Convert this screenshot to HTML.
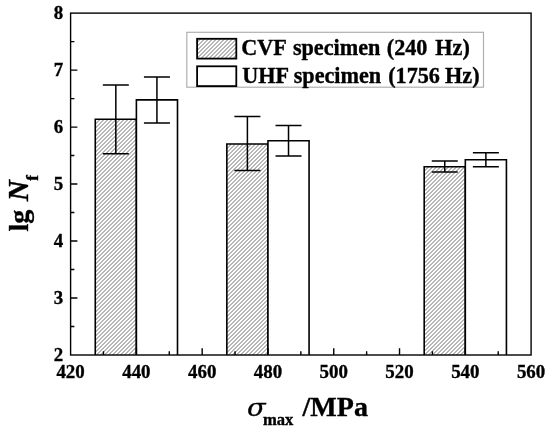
<!DOCTYPE html>
<html><head><meta charset="utf-8"><title>lg Nf vs sigma max</title>
<style>html,body{margin:0;padding:0;background:#fff;}svg{display:block;}</style>
</head><body>
<svg width="550" height="434" viewBox="0 0 550 434">
<rect x="95.27" y="119.20" width="41.12" height="235.80" fill="#fff"/>
<path d="M95.27,120.23L96.30,119.20M95.27,124.23L100.30,119.20M95.27,128.23L104.30,119.20M95.27,132.23L108.30,119.20M95.27,136.23L112.30,119.20M95.27,140.23L116.30,119.20M95.27,144.23L120.30,119.20M95.27,148.23L124.30,119.20M95.27,152.23L128.30,119.20M95.27,156.23L132.30,119.20M95.27,160.23L136.30,119.20M95.27,164.23L136.39,123.11M95.27,168.23L136.39,127.11M95.27,172.23L136.39,131.11M95.27,176.23L136.39,135.11M95.27,180.23L136.39,139.11M95.27,184.23L136.39,143.11M95.27,188.23L136.39,147.11M95.27,192.23L136.39,151.11M95.27,196.23L136.39,155.11M95.27,200.23L136.39,159.11M95.27,204.23L136.39,163.11M95.27,208.23L136.39,167.11M95.27,212.23L136.39,171.11M95.27,216.23L136.39,175.11M95.27,220.23L136.39,179.11M95.27,224.23L136.39,183.11M95.27,228.23L136.39,187.11M95.27,232.23L136.39,191.11M95.27,236.23L136.39,195.11M95.27,240.23L136.39,199.11M95.27,244.23L136.39,203.11M95.27,248.23L136.39,207.11M95.27,252.23L136.39,211.11M95.27,256.23L136.39,215.11M95.27,260.23L136.39,219.11M95.27,264.23L136.39,223.11M95.27,268.23L136.39,227.11M95.27,272.23L136.39,231.11M95.27,276.23L136.39,235.11M95.27,280.23L136.39,239.11M95.27,284.23L136.39,243.11M95.27,288.23L136.39,247.11M95.27,292.23L136.39,251.11M95.27,296.23L136.39,255.11M95.27,300.23L136.39,259.11M95.27,304.23L136.39,263.11M95.27,308.23L136.39,267.11M95.27,312.23L136.39,271.11M95.27,316.23L136.39,275.11M95.27,320.23L136.39,279.11M95.27,324.23L136.39,283.11M95.27,328.23L136.39,287.11M95.27,332.23L136.39,291.11M95.27,336.23L136.39,295.11M95.27,340.23L136.39,299.11M95.27,344.23L136.39,303.11M95.27,348.23L136.39,307.11M95.27,352.23L136.39,311.11M96.50,355.00L136.39,315.11M100.50,355.00L136.39,319.11M104.50,355.00L136.39,323.11M108.50,355.00L136.39,327.11M112.50,355.00L136.39,331.11M116.50,355.00L136.39,335.11M120.50,355.00L136.39,339.11M124.50,355.00L136.39,343.11M128.50,355.00L136.39,347.11M132.50,355.00L136.39,351.11" stroke="#666666" stroke-width="0.95" fill="none"/>
<path d="M95.27,355.00V119.20H136.39V355.00" fill="none" stroke="#000" stroke-width="1.6"/>
<rect x="136.39" y="99.90" width="41.12" height="255.10" fill="#fff"/>
<path d="M136.39,355.00V99.90H177.50V355.00" fill="none" stroke="#000" stroke-width="1.6"/>
<rect x="226.84" y="144.00" width="41.12" height="211.00" fill="#fff"/>
<path d="M226.84,144.66L227.50,144.00M226.84,148.66L231.50,144.00M226.84,152.66L235.50,144.00M226.84,156.66L239.50,144.00M226.84,160.66L243.50,144.00M226.84,164.66L247.50,144.00M226.84,168.66L251.50,144.00M226.84,172.66L255.50,144.00M226.84,176.66L259.50,144.00M226.84,180.66L263.50,144.00M226.84,184.66L267.50,144.00M226.84,188.66L267.96,147.54M226.84,192.66L267.96,151.54M226.84,196.66L267.96,155.54M226.84,200.66L267.96,159.54M226.84,204.66L267.96,163.54M226.84,208.66L267.96,167.54M226.84,212.66L267.96,171.54M226.84,216.66L267.96,175.54M226.84,220.66L267.96,179.54M226.84,224.66L267.96,183.54M226.84,228.66L267.96,187.54M226.84,232.66L267.96,191.54M226.84,236.66L267.96,195.54M226.84,240.66L267.96,199.54M226.84,244.66L267.96,203.54M226.84,248.66L267.96,207.54M226.84,252.66L267.96,211.54M226.84,256.66L267.96,215.54M226.84,260.66L267.96,219.54M226.84,264.66L267.96,223.54M226.84,268.66L267.96,227.54M226.84,272.66L267.96,231.54M226.84,276.66L267.96,235.54M226.84,280.66L267.96,239.54M226.84,284.66L267.96,243.54M226.84,288.66L267.96,247.54M226.84,292.66L267.96,251.54M226.84,296.66L267.96,255.54M226.84,300.66L267.96,259.54M226.84,304.66L267.96,263.54M226.84,308.66L267.96,267.54M226.84,312.66L267.96,271.54M226.84,316.66L267.96,275.54M226.84,320.66L267.96,279.54M226.84,324.66L267.96,283.54M226.84,328.66L267.96,287.54M226.84,332.66L267.96,291.54M226.84,336.66L267.96,295.54M226.84,340.66L267.96,299.54M226.84,344.66L267.96,303.54M226.84,348.66L267.96,307.54M226.84,352.66L267.96,311.54M228.50,355.00L267.96,315.54M232.50,355.00L267.96,319.54M236.50,355.00L267.96,323.54M240.50,355.00L267.96,327.54M244.50,355.00L267.96,331.54M248.50,355.00L267.96,335.54M252.50,355.00L267.96,339.54M256.50,355.00L267.96,343.54M260.50,355.00L267.96,347.54M264.50,355.00L267.96,351.54" stroke="#666666" stroke-width="0.95" fill="none"/>
<path d="M226.84,355.00V144.00H267.96V355.00" fill="none" stroke="#000" stroke-width="1.6"/>
<rect x="267.96" y="140.70" width="41.12" height="214.30" fill="#fff"/>
<path d="M267.96,355.00V140.70H309.07V355.00" fill="none" stroke="#000" stroke-width="1.6"/>
<rect x="424.20" y="166.80" width="41.12" height="188.20" fill="#fff"/>
<path d="M424.20,167.30L424.70,166.80M424.20,171.30L428.70,166.80M424.20,175.30L432.70,166.80M424.20,179.30L436.70,166.80M424.20,183.30L440.70,166.80M424.20,187.30L444.70,166.80M424.20,191.30L448.70,166.80M424.20,195.30L452.70,166.80M424.20,199.30L456.70,166.80M424.20,203.30L460.70,166.80M424.20,207.30L464.70,166.80M424.20,211.30L465.32,170.18M424.20,215.30L465.32,174.18M424.20,219.30L465.32,178.18M424.20,223.30L465.32,182.18M424.20,227.30L465.32,186.18M424.20,231.30L465.32,190.18M424.20,235.30L465.32,194.18M424.20,239.30L465.32,198.18M424.20,243.30L465.32,202.18M424.20,247.30L465.32,206.18M424.20,251.30L465.32,210.18M424.20,255.30L465.32,214.18M424.20,259.30L465.32,218.18M424.20,263.30L465.32,222.18M424.20,267.30L465.32,226.18M424.20,271.30L465.32,230.18M424.20,275.30L465.32,234.18M424.20,279.30L465.32,238.18M424.20,283.30L465.32,242.18M424.20,287.30L465.32,246.18M424.20,291.30L465.32,250.18M424.20,295.30L465.32,254.18M424.20,299.30L465.32,258.18M424.20,303.30L465.32,262.18M424.20,307.30L465.32,266.18M424.20,311.30L465.32,270.18M424.20,315.30L465.32,274.18M424.20,319.30L465.32,278.18M424.20,323.30L465.32,282.18M424.20,327.30L465.32,286.18M424.20,331.30L465.32,290.18M424.20,335.30L465.32,294.18M424.20,339.30L465.32,298.18M424.20,343.30L465.32,302.18M424.20,347.30L465.32,306.18M424.20,351.30L465.32,310.18M424.50,355.00L465.32,314.18M428.50,355.00L465.32,318.18M432.50,355.00L465.32,322.18M436.50,355.00L465.32,326.18M440.50,355.00L465.32,330.18M444.50,355.00L465.32,334.18M448.50,355.00L465.32,338.18M452.50,355.00L465.32,342.18M456.50,355.00L465.32,346.18M460.50,355.00L465.32,350.18M464.50,355.00L465.32,354.18" stroke="#666666" stroke-width="0.95" fill="none"/>
<path d="M424.20,355.00V166.80H465.32V355.00" fill="none" stroke="#000" stroke-width="1.6"/>
<rect x="465.32" y="159.70" width="41.12" height="195.30" fill="#fff"/>
<path d="M465.32,355.00V159.70H506.43V355.00" fill="none" stroke="#000" stroke-width="1.6"/>
<path d="M115.83,85.10V153.70M102.83,85.10h26.0M102.83,153.70h26.0" stroke="#000" stroke-width="1.5" fill="none"/>
<path d="M156.94,76.90V122.90M143.94,76.90h26.0M143.94,122.90h26.0" stroke="#000" stroke-width="1.5" fill="none"/>
<path d="M247.40,116.40V170.60M234.40,116.40h26.0M234.40,170.60h26.0" stroke="#000" stroke-width="1.5" fill="none"/>
<path d="M288.52,125.40V156.10M275.52,125.40h26.0M275.52,156.10h26.0" stroke="#000" stroke-width="1.5" fill="none"/>
<path d="M444.76,160.90V172.00M431.76,160.90h26.0M431.76,172.00h26.0" stroke="#000" stroke-width="1.5" fill="none"/>
<path d="M485.87,152.80V166.80M472.87,152.80h26.0M472.87,166.80h26.0" stroke="#000" stroke-width="1.5" fill="none"/>
<path d="M136.39,355.00v-6.8M202.17,355.00v-6.8M267.96,355.00v-6.8M333.74,355.00v-6.8M399.53,355.00v-6.8M465.32,355.00v-6.8M103.49,355.00v-3.8M169.28,355.00v-3.8M235.06,355.00v-3.8M300.85,355.00v-3.8M366.64,355.00v-3.8M432.42,355.00v-3.8M498.21,355.00v-3.8M70.60,298.02h6.8M70.60,241.04h6.8M70.60,184.06h6.8M70.60,127.08h6.8M70.60,70.10h6.8M70.60,326.51h3.8M70.60,269.53h3.8M70.60,212.55h3.8M70.60,155.57h3.8M70.60,98.59h3.8M70.60,41.61h3.8" stroke="#000" stroke-width="1.4" fill="none"/>
<rect x="70.60" y="13.12" width="460.50" height="341.88" fill="none" stroke="#000" stroke-width="1.4"/>
<g font-family="Liberation Serif" font-weight="bold" font-size="18.9" fill="#000" stroke="#000" stroke-width="0.35"><text x="70.60" y="378" text-anchor="middle">420</text><text x="136.39" y="378" text-anchor="middle">440</text><text x="202.17" y="378" text-anchor="middle">460</text><text x="267.96" y="378" text-anchor="middle">480</text><text x="333.74" y="378" text-anchor="middle">500</text><text x="399.53" y="378" text-anchor="middle">520</text><text x="465.32" y="378" text-anchor="middle">540</text><text x="531.10" y="378" text-anchor="middle">560</text><text x="63.2" y="360.80" text-anchor="end">2</text><text x="63.2" y="303.82" text-anchor="end">3</text><text x="63.2" y="246.84" text-anchor="end">4</text><text x="63.2" y="189.86" text-anchor="end">5</text><text x="63.2" y="132.88" text-anchor="end">6</text><text x="63.2" y="75.90" text-anchor="end">7</text><text x="63.2" y="18.92" text-anchor="end">8</text></g>
<rect x="186.8" y="32.3" width="296.7" height="54.9" fill="#fff" stroke="#b0b0b0" stroke-width="1.2"/>
<path d="M197.10,42.40L200.70,38.80M197.10,46.40L204.70,38.80M197.10,50.40L208.70,38.80M197.10,54.40L212.70,38.80M197.10,58.40L216.70,38.80M200.90,58.60L220.70,38.80M204.90,58.60L224.70,38.80M208.90,58.60L228.70,38.80M212.90,58.60L232.70,38.80M216.90,58.60L236.30,39.20M220.90,58.60L236.30,43.20M224.90,58.60L236.30,47.20M228.90,58.60L236.30,51.20M232.90,58.60L236.30,55.20" stroke="#666666" stroke-width="0.95" fill="none"/>
<rect x="197.1" y="38.8" width="39.2" height="19.8" fill="none" stroke="#000" stroke-width="1.8"/>
<rect x="197.1" y="66.3" width="39.2" height="19.8" fill="#fff" stroke="#000" stroke-width="1.8"/>
<g font-family="Liberation Serif" font-weight="bold" font-size="22.2" fill="#000" stroke="#000" stroke-width="0.35"><text x="241.2" y="54.8">CVF</text><text x="292.9" y="54.8">specimen</text><text x="386.8" y="54.8">(240</text><text x="435.3" y="54.8">Hz)</text><text x="242.3" y="82.8">UHF</text><text x="293.7" y="82.8">specimen</text><text x="388.2" y="82.8">(1756</text><text x="445.1" y="82.8">Hz)</text></g>
<g font-family="Liberation Serif" font-weight="bold" fill="#000"><text transform="translate(247,416) scale(1.11,1)" font-family="DejaVu Serif" font-style="italic" font-weight="normal" font-size="24.6" stroke="#000" stroke-width="0.35">σ</text><text x="263" y="425.1" font-size="16.6" stroke="#000" stroke-width="0.35">max</text><text x="302.6" y="415.5" font-size="28" stroke="#000" stroke-width="0.35">/MPa</text></g>
<text transform="translate(27.7,231.6) rotate(-90)" font-family="Liberation Serif" font-weight="bold" fill="#000" stroke="#000" stroke-width="0.35" font-size="28">lg <tspan font-style="italic" font-size="29.2" dx="1.7">N</tspan><tspan font-size="17" dx="-0.7" dy="10.2">f</tspan></text>
</svg>
</body></html>
